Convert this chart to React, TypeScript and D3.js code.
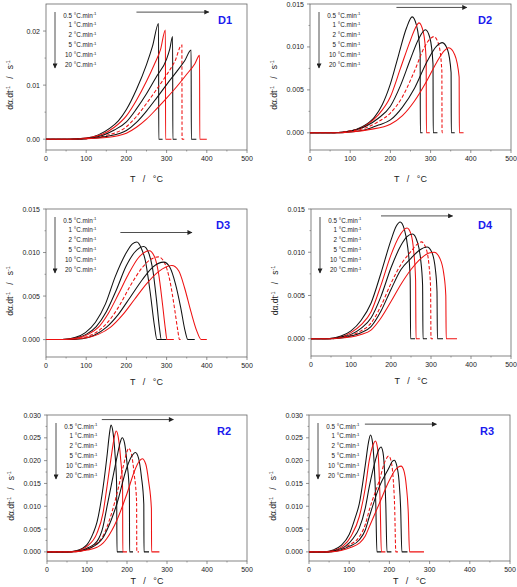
import React, { useEffect, useRef } from 'react';
import * as d3 from 'd3';

type Pt = [number, number];

const rates = ['0.5', '1', '2', '5', '10', '20'];
const xTicks = [0, 100, 200, 300, 400, 500];
const xMinor = [50, 150, 250, 350, 450];

// ---- D1 ----
const d1Rate05: Pt[] = [[0,0],[60,0],[100,0.0002],[130,0.0008],[160,0.0021],[180,0.0034],[200,0.0055],[225,0.0092],[250,0.0138],[265,0.0172],[280,0.0214],[280.5,0],[290,0]];
const d1Rate1: Pt[] = [[0,0],[60,0],[100,0.0002],[140,0.0009],[170,0.0022],[200,0.0043],[225,0.0072],[250,0.0107],[270,0.0139],[285,0.0166],[297,0.0202],[297.5,0],[312,0]];
const d1Rate2: Pt[] = [[0,0],[60,0],[100,0.0001],[140,0.0007],[170,0.0017],[200,0.0032],[225,0.0056],[250,0.0084],[275,0.0116],[300,0.0148],[308,0.0167],[315,0.0190],[315.5,0],[325,0]];
const d1Rate5: Pt[] = [[0,0],[60,0],[100,0.0001],[150,0.0007],[200,0.0023],[225,0.0042],[250,0.0066],[275,0.0092],[300,0.0119],[320,0.0143],[338,0.0174],[338.5,0],[346,0]];
const d1Rate10: Pt[] = [[0,0],[60,0],[100,0.0001],[150,0.0005],[200,0.0016],[225,0.0031],[250,0.0052],[275,0.0076],[300,0.0101],[325,0.0125],[345,0.0145],[361,0.0165],[361.5,0],[374,0]];
const d1Rate20: Pt[] = [[0,0],[60,0],[100,0.0001],[150,0.0003],[200,0.0011],[225,0.0022],[250,0.0037],[275,0.0056],[300,0.0076],[325,0.0097],[350,0.0120],[370,0.0139],[382,0.0155],[382.5,0],[400,0]];

// ---- D2 ----
const d2Rate05: Pt[] = [[0,0],[60,0],[100,0.0002],[130,0.0007],[160,0.0018],[180,0.0033],[200,0.0057],[220,0.0090],[240,0.0122],[254,0.0135],[265,0.0125],[274,0.0092],[274.5,0],[280,0]];
const d2Rate1: Pt[] = [[0,0],[60,0],[100,0.0002],[140,0.0009],[170,0.0021],[200,0.0042],[225,0.0075],[250,0.0108],[263,0.0123],[271,0.0128],[282,0.0117],[289,0.0085],[289.5,0],[298,0]];
const d2Rate2: Pt[] = [[0,0],[60,0],[100,0.0002],[140,0.0008],[170,0.0017],[200,0.0031],[225,0.0055],[250,0.0086],[270,0.0109],[287,0.0120],[298,0.0111],[306,0.0080],[306.5,0],[317,0]];
const d2Rate5: Pt[] = [[0,0],[60,0],[100,0.0002],[140,0.0006],[170,0.0013],[200,0.0023],[230,0.0042],[260,0.0072],[285,0.0100],[300,0.0110],[308,0.0112],[320,0.0103],[328,0.0072],[328.5,0],[333,0]];
const d2Rate10: Pt[] = [[0,0],[60,0],[100,0.0001],[140,0.0004],[170,0.0009],[200,0.0015],[230,0.0030],[260,0.0052],[290,0.0082],[315,0.0101],[329,0.0105],[342,0.0097],[351,0.0070],[351.5,0],[360,0]];
const d2Rate20: Pt[] = [[0,0],[60,0],[100,0.0001],[150,0.0004],[200,0.0010],[230,0.0020],[260,0.0037],[290,0.0060],[315,0.0082],[335,0.0096],[345,0.0099],[360,0.0091],[371,0.0065],[371.5,0],[382,0]];

// ---- D3 ----
const d3Rate05: Pt[] = [[0,0],[40,0],[70,0.0002],[98,0.0008],[123,0.0020],[148,0.0041],[172,0.0072],[200,0.0100],[215,0.0110],[226,0.0112],[237,0.0105],[247,0.0091],[259,0.0055],[270,0.0015],[276,0],[290,0]];
const d3Rate1: Pt[] = [[0,0],[40,0],[75,0.0002],[100,0.0006],[125,0.0015],[150,0.0032],[175,0.0057],[200,0.0085],[220,0.0100],[243,0.0107],[255,0.0100],[265,0.0082],[275,0.0045],[282,0.0014],[287,0],[300,0]];
const d3Rate2: Pt[] = [[0,0],[40,0],[80,0.0002],[105,0.0006],[130,0.0014],[155,0.0030],[180,0.0052],[205,0.0075],[230,0.0094],[257,0.0102],[270,0.0095],[280,0.0076],[290,0.0040],[297,0.0012],[301,0],[318,0]];
const d3Rate5: Pt[] = [[0,0],[50,0],[90,0.0002],[120,0.0007],[150,0.0018],[180,0.0037],[210,0.0062],[240,0.0083],[260,0.0092],[280,0.0095],[295,0.0088],[308,0.0068],[320,0.0035],[328,0.0010],[332,0],[340,0]];
const d3Rate10: Pt[] = [[0,0],[50,0],[90,0.0001],[120,0.0005],[150,0.0014],[180,0.0029],[210,0.0049],[240,0.0069],[265,0.0083],[293,0.0089],[308,0.0083],[322,0.0064],[335,0.0037],[346,0.0010],[353,0],[370,0]];
const d3Rate20: Pt[] = [[0,0],[50,0],[100,0.0002],[130,0.0006],[160,0.0014],[190,0.0028],[220,0.0046],[250,0.0064],[280,0.0078],[313,0.0085],[330,0.0079],[345,0.0059],[360,0.0033],[375,0.0010],[386,0],[400,0]];

// ---- D4 ----
const d4Rate05: Pt[] = [[0,0],[40,0],[75,0.0003],[100,0.0009],[125,0.0021],[150,0.0041],[175,0.0076],[200,0.0114],[213,0.0130],[223,0.0135],[233,0.0127],[242,0.0105],[248,0.0070],[249,0],[260,0]];
const d4Rate1: Pt[] = [[0,0],[40,0],[75,0.0002],[100,0.0007],[125,0.0016],[150,0.0031],[175,0.0062],[200,0.0097],[220,0.0118],[240,0.0128],[250,0.0121],[257,0.0100],[261.5,0.0068],[262.5,0],[272,0]];
const d4Rate2: Pt[] = [[0,0],[40,0],[75,0.0002],[100,0.0005],[125,0.0012],[150,0.0024],[175,0.0049],[200,0.0082],[225,0.0108],[240,0.0118],[254,0.0121],[265,0.0113],[274,0.0092],[279,0.0062],[280,0],[290,0]];
const d4Rate5: Pt[] = [[0,0],[50,0],[80,0.0002],[100,0.0004],[125,0.0009],[150,0.0018],[175,0.0038],[200,0.0064],[225,0.0086],[250,0.0101],[265,0.0109],[276,0.0112],[287,0.0105],[295,0.0085],[299,0.0058],[300,0],[305,0]];
const d4Rate10: Pt[] = [[0,0],[50,0],[80,0.0001],[100,0.0003],[125,0.0007],[150,0.0014],[175,0.0032],[200,0.0057],[225,0.0080],[250,0.0093],[270,0.0102],[290,0.0106],[302,0.0100],[311,0.0080],[315,0.0055],[316,0],[330,0]];
const d4Rate20: Pt[] = [[0,0],[50,0],[80,0.0001],[100,0.0002],[125,0.0005],[150,0.0010],[175,0.0024],[200,0.0043],[225,0.0063],[250,0.0080],[275,0.0093],[295,0.0099],[308,0.0100],[322,0.0093],[332,0.0075],[337,0.0050],[338,0],[365,0]];

// ---- R2 ----
const r2Rate05: Pt[] = [[0,0],[50,0],[75,0.0003],[100,0.0016],[115,0.0040],[125,0.0065],[140,0.0140],[150,0.0210],[156,0.0258],[160,0.0278],[165,0.0262],[170,0.0215],[174,0.0150],[175,0],[190,0]];
const r2Rate1: Pt[] = [[0,0],[50,0],[80,0.0003],[100,0.0012],[125,0.0041],[140,0.0085],[150,0.0143],[160,0.0205],[168,0.0250],[173,0.0265],[178,0.0252],[184,0.0205],[189,0.0140],[189.5,0],[200,0]];
const r2Rate2: Pt[] = [[0,0],[50,0],[85,0.0003],[105,0.0010],[125,0.0023],[140,0.0055],[150,0.0099],[165,0.0165],[175,0.0208],[183,0.0240],[188,0.0250],[194,0.0238],[200,0.0195],[206,0.0130],[206.5,0],[215,0]];
const r2Rate5: Pt[] = [[0,0],[60,0],[90,0.0003],[110,0.0010],[125,0.0019],[140,0.0035],[150,0.0055],[175,0.0128],[190,0.0185],[200,0.0220],[204,0.0227],[211,0.0215],[218,0.0170],[224,0.0110],[224.5,0],[230,0]];
const r2Rate10: Pt[] = [[0,0],[60,0],[90,0.0003],[110,0.0009],[125,0.0017],[140,0.0031],[150,0.0048],[175,0.0106],[200,0.0186],[212,0.0210],[221,0.0218],[229,0.0205],[236,0.0165],[242,0.0105],[242.5,0],[255,0]];
const r2Rate20: Pt[] = [[0,0],[60,0],[100,0.0004],[125,0.0010],[140,0.0019],[150,0.0030],[175,0.0070],[200,0.0128],[220,0.0180],[230,0.0198],[238,0.0204],[247,0.0192],[254,0.0155],[261,0.0095],[261.5,0],[281,0]];

// ---- R3 ----
const r3Rate05: Pt[] = [[0,0],[40,0],[60,0.0004],[80,0.0014],[100,0.0038],[115,0.0075],[125,0.0105],[140,0.0190],[148,0.0240],[153,0.0256],[158,0.0240],[162,0.0195],[166,0.0110],[169,0],[180,0]];
const r3Rate1: Pt[] = [[0,0],[40,0],[65,0.0004],[85,0.0013],[105,0.0035],[125,0.0077],[140,0.0140],[150,0.0201],[160,0.0236],[165,0.0243],[170,0.0230],[174,0.0185],[177,0.0110],[180,0],[190,0]];
const r3Rate2: Pt[] = [[0,0],[45,0],[70,0.0004],[90,0.0012],[110,0.0030],[125,0.0052],[140,0.0096],[150,0.0143],[165,0.0200],[174,0.0225],[179,0.0230],[184,0.0218],[188,0.0175],[191,0.0105],[194,0],[205,0]];
const r3Rate5: Pt[] = [[0,0],[50,0],[75,0.0004],[100,0.0015],[125,0.0033],[140,0.0060],[150,0.0092],[175,0.0157],[190,0.0200],[198,0.0210],[204,0.0200],[209,0.0165],[213,0.0100],[216,0],[225,0]];
const r3Rate10: Pt[] = [[0,0],[50,0],[75,0.0003],[100,0.0012],[125,0.0026],[140,0.0048],[150,0.0077],[175,0.0143],[200,0.0186],[206,0.0197],[212,0.0201],[218,0.0190],[224,0.0155],[228,0.0095],[231,0],[245,0]];
const r3Rate20: Pt[] = [[0,0],[50,0],[80,0.0003],[105,0.0010],[125,0.0019],[140,0.0035],[150,0.0055],[175,0.0106],[200,0.0157],[215,0.0180],[229,0.0188],[236,0.0178],[242,0.0145],[247,0.0085],[250,0],[286,0]];

const BLK = '#111111';
const RED = '#ee1111';
const colorsStd = [BLK, RED, BLK, RED, BLK, RED];
const colorsD3 = [BLK, BLK, RED, RED, BLK, RED];

const yT15 = [0, 0.005, 0.01, 0.015];
const yM15 = [0.0025, 0.0075, 0.0125];
const yT30 = [0, 0.005, 0.01, 0.015, 0.02, 0.025, 0.03];
const yM30 = [0.0025, 0.0075, 0.0125, 0.0175, 0.0225, 0.0275];

const panels = [
  { name: 'D1', l: 46, r: 247, t: 4, b: 150, xtOff: 32, yDom: [-0.002, 0.025], yTicks: [0, 0.01, 0.02], yMinor: [0.005, 0.015], fmt: '.2f',
    curves: [d1Rate05, d1Rate1, d1Rate2, d1Rate5, d1Rate10, d1Rate20], colors: colorsStd, arrow: [225, 405, 0.0235], labDx: -22 },
  { name: 'D2', l: 310, r: 511, t: 4, b: 150, xtOff: 32, yDom: [-0.002, 0.015], yTicks: yT15, yMinor: yM15, fmt: '.3f',
    curves: [d2Rate05, d2Rate1, d2Rate2, d2Rate5, d2Rate10, d2Rate20], colors: colorsStd, arrow: [215, 390, 0.0146], labDx: -26 },
  { name: 'D3', l: 46, r: 247, t: 209, b: 357, xtOff: 28, yDom: [-0.002, 0.015], yTicks: yT15, yMinor: yM15, fmt: '.3f',
    curves: [d3Rate05, d3Rate1, d3Rate2, d3Rate5, d3Rate10, d3Rate20], colors: colorsD3, arrow: [185, 363, 0.0123], labDx: -24 },
  { name: 'D4', l: 311, r: 511, t: 209, b: 356, xtOff: 28, yDom: [-0.002, 0.015], yTicks: yT15, yMinor: yM15, fmt: '.3f',
    curves: [d4Rate05, d4Rate1, d4Rate2, d4Rate5, d4Rate10, d4Rate20], colors: colorsStd, arrow: [175, 354, 0.0142], labDx: -26 },
  { name: 'R2', l: 47, r: 247, t: 415, b: 561, xtOff: 23, yDom: [-0.002, 0.03], yTicks: yT30, yMinor: yM30, fmt: '.3f',
    curves: [r2Rate05, r2Rate1, r2Rate2, r2Rate5, r2Rate10, r2Rate20], colors: colorsStd, arrow: [137, 316, 0.029], labDx: -23 },
  { name: 'R3', l: 309, r: 510, t: 415, b: 561, xtOff: 23, yDom: [-0.002, 0.03], yTicks: yT30, yMinor: yM30, fmt: '.3f',
    curves: [r3Rate05, r3Rate1, r3Rate2, r3Rate5, r3Rate10, r3Rate20], colors: colorsStd, arrow: [139, 317, 0.028], labDx: -23 },
];

const FONT = '"Liberation Sans", Arial, sans-serif';

export default function App() {
  const ref = useRef<SVGSVGElement>(null);

  useEffect(() => {
    if (!ref.current) return;
    const svg = d3.select(ref.current);
    svg.selectAll('*').remove();

    svg.append('defs').append('marker')
      .attr('id', 'ah')
      .attr('viewBox', '0 0 10 10')
      .attr('refX', 9).attr('refY', 5)
      .attr('markerWidth', 6).attr('markerHeight', 5)
      .attr('markerUnits', 'userSpaceOnUse')
      .attr('orient', 'auto')
      .append('path').attr('d', 'M0,0 L10,5 L0,10 Z').attr('fill', '#222');

    panels.forEach(p => {
      const g = svg.append('g');
      const x = d3.scaleLinear().domain([0, 500]).range([p.l, p.r]);
      const y = d3.scaleLinear().domain(p.yDom).range([p.b, p.t]);

      // frame
      g.append('rect')
        .attr('x', p.l).attr('y', p.t)
        .attr('width', p.r - p.l).attr('height', p.b - p.t)
        .attr('fill', 'none').attr('stroke', '#666').attr('stroke-width', 0.8);

      // x ticks
      xTicks.forEach(t => {
        g.append('line').attr('x1', x(t)).attr('x2', x(t)).attr('y1', p.b).attr('y2', p.b + 3)
          .attr('stroke', '#666').attr('stroke-width', 0.7);
        g.append('text').attr('x', x(t)).attr('y', p.b + 11)
          .attr('text-anchor', 'middle').attr('font-size', 7).attr('font-family', FONT).attr('fill', '#222')
          .text(t);
      });
      xMinor.forEach(t => {
        g.append('line').attr('x1', x(t)).attr('x2', x(t)).attr('y1', p.b).attr('y2', p.b + 1.5)
          .attr('stroke', '#666').attr('stroke-width', 0.6);
      });

      // y ticks
      const fmt = d3.format(p.fmt);
      p.yTicks.forEach(v => {
        g.append('line').attr('x1', p.l - 3).attr('x2', p.l).attr('y1', y(v)).attr('y2', y(v))
          .attr('stroke', '#666').attr('stroke-width', 0.7);
        g.append('text').attr('x', p.l - 6).attr('y', y(v) + 2.5)
          .attr('text-anchor', 'end').attr('font-size', 7).attr('font-family', FONT).attr('fill', '#222')
          .text(fmt(v));
      });
      p.yMinor.forEach(v => {
        g.append('line').attr('x1', p.l - 1.5).attr('x2', p.l).attr('y1', y(v)).attr('y2', y(v))
          .attr('stroke', '#666').attr('stroke-width', 0.6);
      });

      // axis titles
      g.append('text').attr('x', (p.l + p.r) / 2).attr('y', p.b + p.xtOff)
        .attr('text-anchor', 'middle').attr('font-size', 9).attr('font-family', FONT).attr('fill', '#222')
        .attr('xml:space', 'preserve')
        .text('T   /   °C');

      const cy = (p.t + p.b) / 2 + 8;
      const yt = g.append('text')
        .attr('transform', `translate(${p.l - 33},${cy}) rotate(-90)`)
        .attr('text-anchor', 'middle').attr('font-size', 8.5).attr('font-family', FONT).attr('fill', '#222')
        .attr('xml:space', 'preserve');
      yt.append('tspan').text('dα.dt');
      yt.append('tspan').attr('dy', -3.2).attr('font-size', 5.5).text('-1');
      yt.append('tspan').attr('dy', 3.2).text('   /   s');
      yt.append('tspan').attr('dy', -3.2).attr('font-size', 5.5).text('-1');

      // curves
      const line = d3.line<Pt>()
        .x(d => x(d[0]))
        .y(d => y(d[1]))
        .curve(d3.curveMonotoneX);
      p.curves.forEach((c, i) => {
        g.append('path')
          .attr('d', line(c) || '')
          .attr('fill', 'none')
          .attr('stroke', p.colors[i])
          .attr('stroke-width', 1.05)
          .attr('stroke-dasharray', i === 3 ? '3.5,2' : null);
      });

      // legend
      rates.forEach((r, i) => {
        const tx = g.append('text').attr('x', p.l + 50.5).attr('y', p.t + 13.5 + i * 9.9)
          .attr('text-anchor', 'end').attr('font-size', 6.3).attr('font-family', FONT).attr('fill', '#222');
        tx.append('tspan').text(`${r} °C.min`);
        tx.append('tspan').attr('dy', -2.5).attr('font-size', 4.3).text('-1');
      });
      g.append('line').attr('x1', p.l + 9).attr('x2', p.l + 9).attr('y1', p.t + 8).attr('y2', p.t + 64)
        .attr('stroke', '#222').attr('stroke-width', 0.8).attr('marker-end', 'url(#ah)');

      // heating direction arrow
      const [a0, a1, av] = p.arrow;
      g.append('line').attr('x1', x(a0)).attr('x2', x(a1)).attr('y1', y(av)).attr('y2', y(av))
        .attr('stroke', '#222').attr('stroke-width', 0.8).attr('marker-end', 'url(#ah)');

      // panel label
      g.append('text').attr('x', p.r + p.labDx).attr('y', p.t + 19.5)
        .attr('text-anchor', 'middle').attr('font-size', 11).attr('font-weight', 'bold')
        .attr('font-family', FONT).attr('fill', '#1a1aee')
        .text(p.name);
    });
  }, []);

  return (
    <div style={{ position: 'absolute', left: 0, top: 0, width: 517, height: 587, background: '#fff' }}>
      <svg ref={ref} width={517} height={587} />
    </div>
  );
}
